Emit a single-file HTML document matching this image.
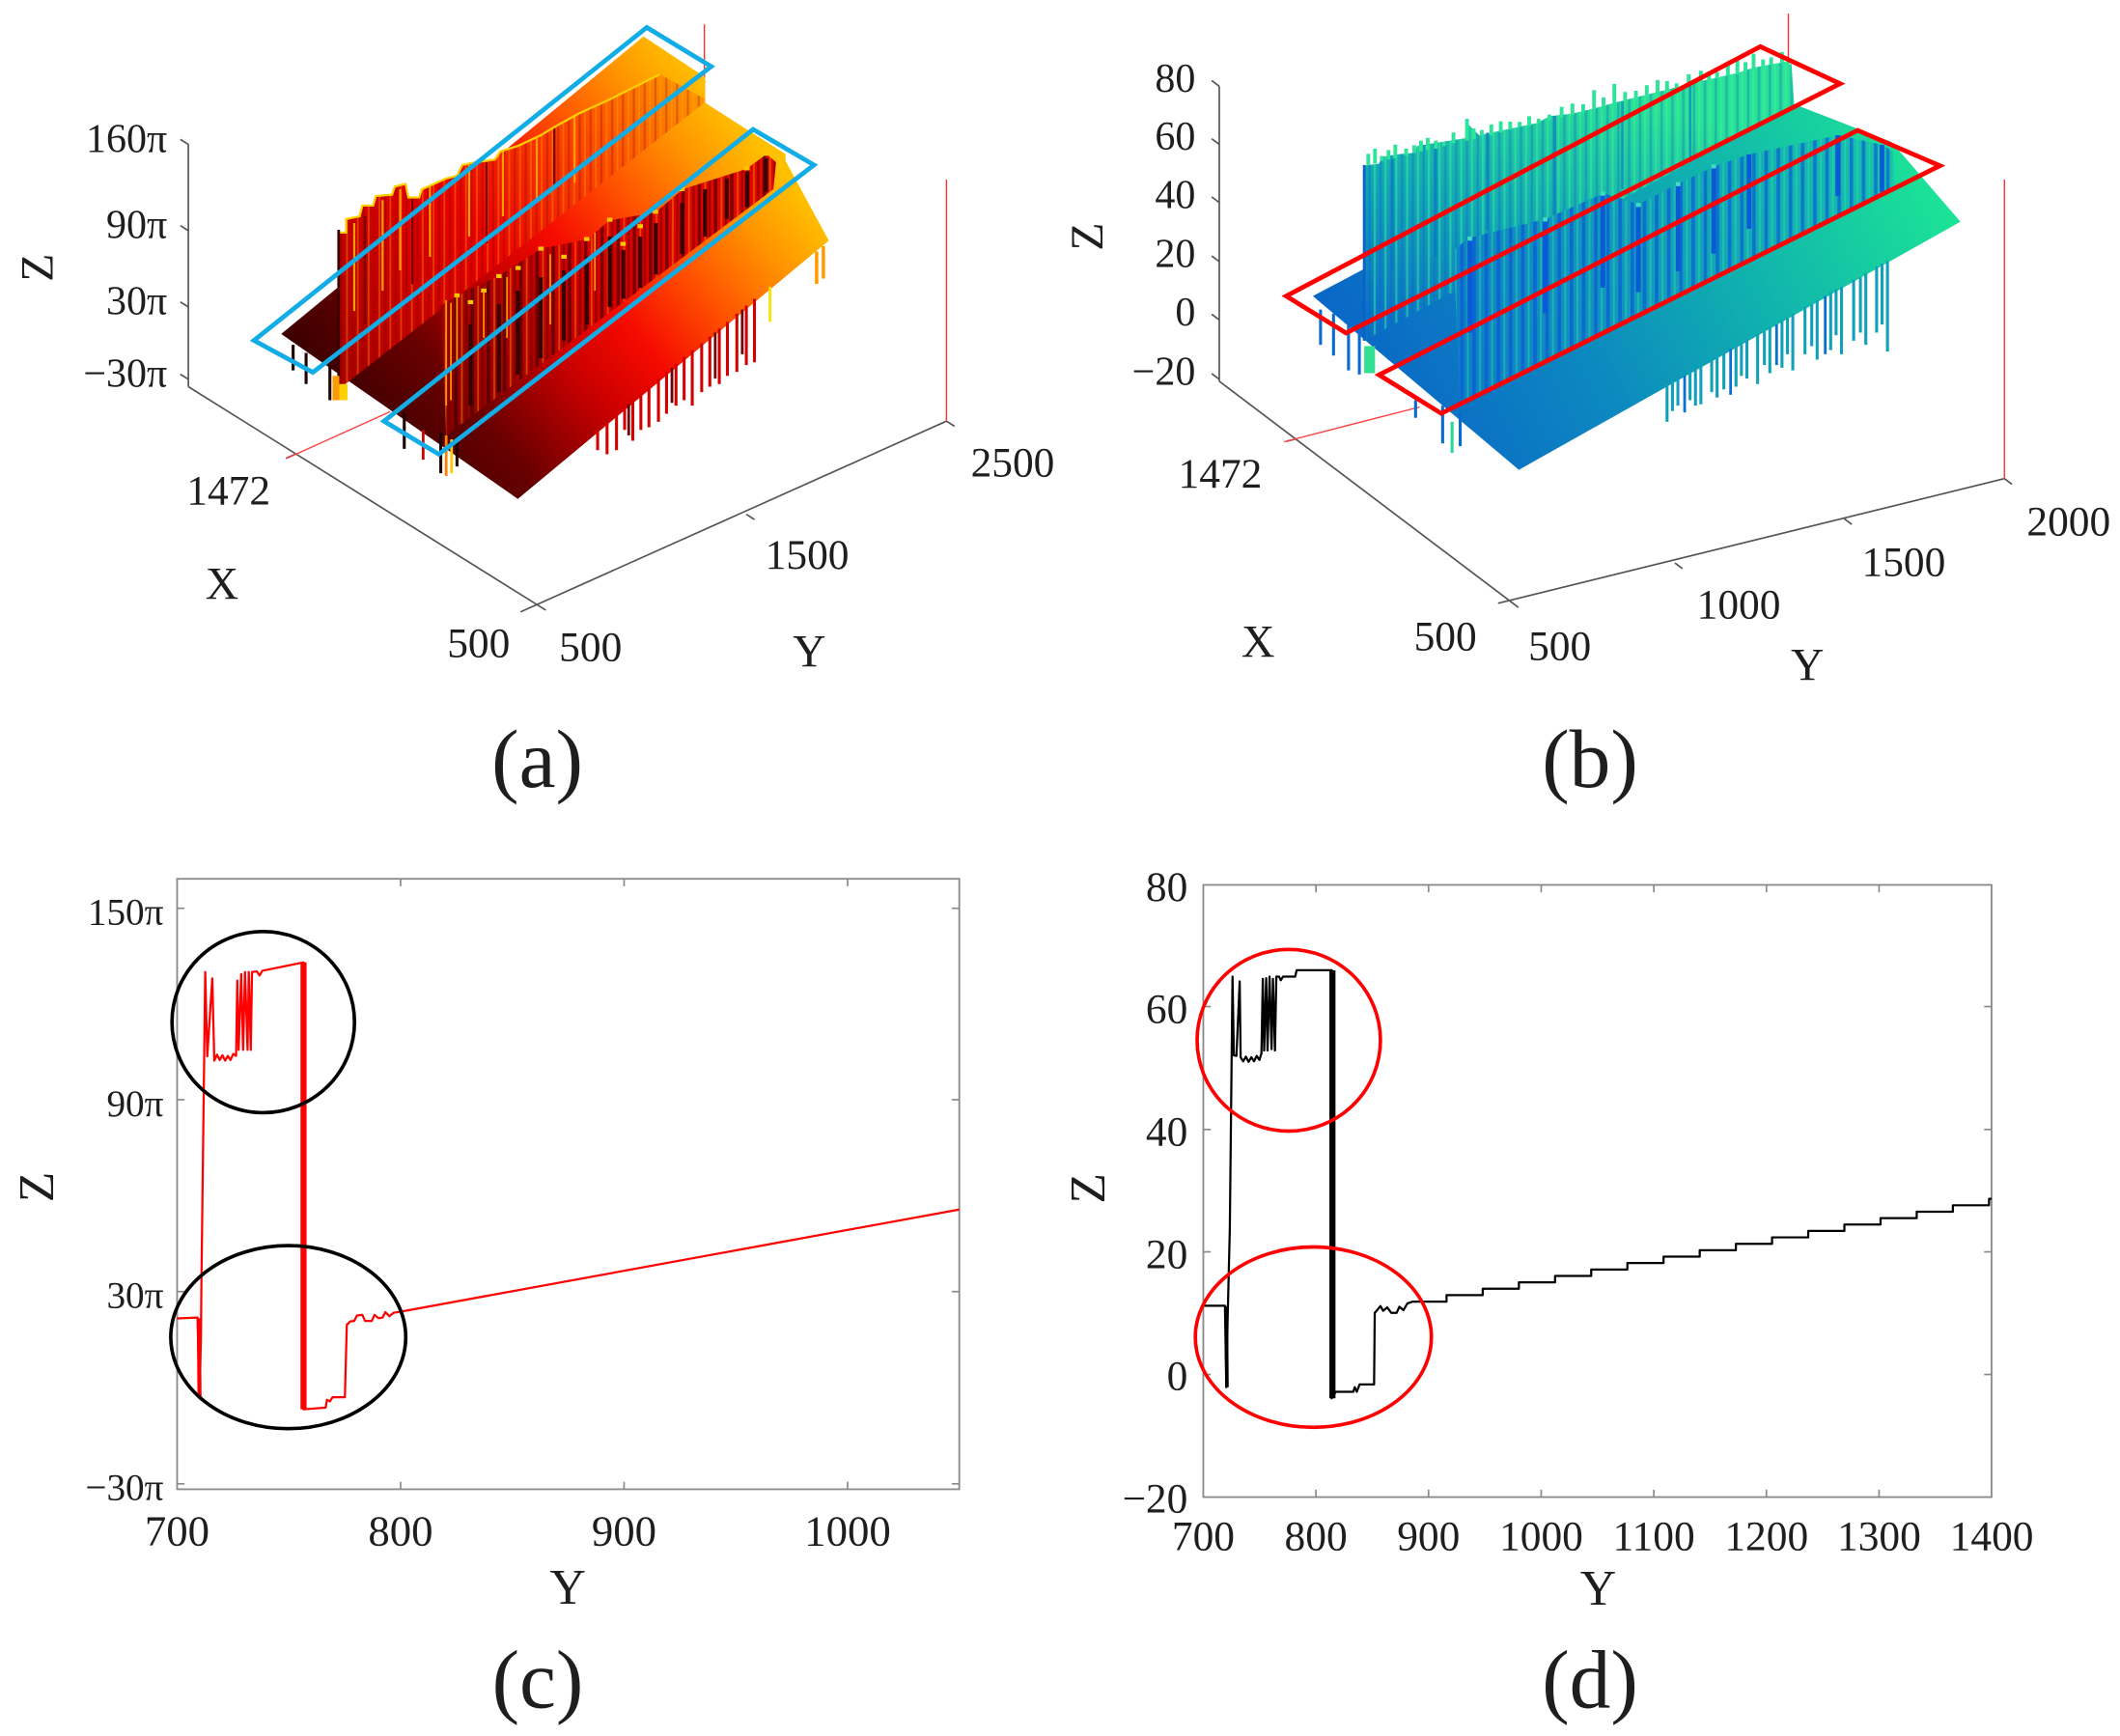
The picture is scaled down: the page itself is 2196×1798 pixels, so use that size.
<!DOCTYPE html>
<html><head><meta charset="utf-8">
<style>
html,body{margin:0;padding:0;background:#fff;}
svg{display:block;}
svg text{font-family:"Liberation Serif","Noto Serif CJK SC","Noto Serif CJK JP","DejaVu Serif",serif;fill:#1e1e1e;}
</style></head>
<body>
<svg xmlns="http://www.w3.org/2000/svg" width="2196" height="1798" viewBox="0 0 1568 1284" preserveAspectRatio="none" font-family="'Liberation Serif', 'Noto Serif CJK SC', 'DejaVu Serif', serif" style="font-family:'Liberation Serif','Noto Serif CJK SC','Noto Serif CJK JP','DejaVu Serif',serif">
<defs>
<linearGradient id="ga" gradientUnits="userSpaceOnUse" x1="210" y1="245" x2="484" y2="14">
<stop offset="0" stop-color="#3c0000"/><stop offset="0.2" stop-color="#6a0000"/><stop offset="0.4" stop-color="#c80000"/><stop offset="0.55" stop-color="#f50a00"/><stop offset="0.72" stop-color="#ff5400"/><stop offset="0.87" stop-color="#ff9400"/><stop offset="1" stop-color="#ffc000"/>
</linearGradient>
<linearGradient id="gwa" gradientUnits="userSpaceOnUse" x1="250" y1="250" x2="505" y2="60">
<stop offset="0" stop-color="#b00000"/><stop offset="0.4" stop-color="#e80000"/><stop offset="0.75" stop-color="#ff4c00"/><stop offset="1" stop-color="#ff9000"/>
</linearGradient>
<linearGradient id="gsa" gradientUnits="userSpaceOnUse" x1="330" y1="300" x2="570" y2="130">
<stop offset="0" stop-color="#8a0000"/><stop offset="0.5" stop-color="#d80000"/><stop offset="1" stop-color="#e00800"/>
</linearGradient>
<linearGradient id="gb" gradientUnits="userSpaceOnUse" x1="971" y1="219" x2="1368" y2="10">
<stop offset="0" stop-color="#0a66c6"/><stop offset="0.35" stop-color="#0c88c0"/><stop offset="0.65" stop-color="#10b2ae"/><stop offset="1" stop-color="#1ce496"/>
</linearGradient>
<linearGradient id="gwb" gradientUnits="userSpaceOnUse" x1="1100" y1="262" x2="1170" y2="60">
<stop offset="0" stop-color="#0b72c6"/><stop offset="0.45" stop-color="#12a8b4"/><stop offset="1" stop-color="#2ae296"/>
</linearGradient>
<linearGradient id="gsb" gradientUnits="userSpaceOnUse" x1="1080" y1="260" x2="1400" y2="110">
<stop offset="0" stop-color="#0e80c4"/><stop offset="1" stop-color="#16c2aa"/>
</linearGradient>
<pattern id="pwa" width="8" height="20" patternUnits="userSpaceOnUse">
<rect x="0" y="0" width="1.3" height="20" fill="#ffb000" opacity="0.35"/>
<rect x="4" y="0" width="1.6" height="20" fill="#700000" opacity="0.25"/>
</pattern>
<pattern id="psa" width="12" height="20" patternUnits="userSpaceOnUse">
<rect x="0" y="0" width="2.5" height="20" fill="#2a0000" opacity="0.55"/>
<rect x="5" y="0" width="1.2" height="20" fill="#ff9000" opacity="0.5"/>
<rect x="8" y="0" width="1.8" height="20" fill="#600000" opacity="0.45"/>
</pattern>
<pattern id="pwb" width="8" height="20" patternUnits="userSpaceOnUse">
<rect x="0" y="0" width="1.5" height="20" fill="#3cf0a0" opacity="0.5"/>
<rect x="4" y="0" width="2" height="20" fill="#0860c8" opacity="0.3"/>
</pattern>
<pattern id="psb" width="9" height="20" patternUnits="userSpaceOnUse">
<rect x="0" y="0" width="2.6" height="20" fill="#0650dc" opacity="0.6"/>
<rect x="5" y="0" width="1.3" height="20" fill="#30e0b0" opacity="0.45"/>
</pattern>
</defs>
<rect x="0" y="0" width="1568" height="1284" fill="#fff"/>

<!-- ================= PANEL (a) ================= -->
<g stroke="#555" stroke-width="1.2" fill="none">
<line x1="139.3" y1="106.8" x2="139.3" y2="286"/>
<line x1="139.3" y1="106.8" x2="133.4" y2="103.1"/>
<line x1="139.3" y1="170.6" x2="133.4" y2="166.9"/>
<line x1="139.3" y1="227" x2="133.4" y2="223.3"/>
<line x1="139.3" y1="280.5" x2="133.4" y2="276.8"/>
<line x1="139.3" y1="286" x2="403.7" y2="451.3"/>
<line x1="385" y1="452.6" x2="700" y2="311.5"/>
<line x1="552" y1="380.4" x2="558" y2="384.2"/>
<line x1="700" y1="311.5" x2="706" y2="315.3"/>
<line x1="218.3" y1="336" x2="211.5" y2="339"/>
</g>
<line x1="212" y1="339" x2="288.5" y2="304.5" stroke="#ff4040" stroke-width="1"/>
<line x1="521" y1="18" x2="521" y2="79" stroke="#ff3030" stroke-width="1"/>
<line x1="700" y1="132.8" x2="700" y2="311.5" stroke="#ff3030" stroke-width="1"/>

<polygon points="208,247 476,27 521.5,57 521.5,76 581,114 581,119 613,178 383,369" fill="url(#ga)"/>
<polygon points="250,286 250,172 256,172 256,162 266,160 268,152 276,152 278,145 290,144 292,138 300,136 302,146 310,146 312,140 330,132 338,130 342,122 352,120 366,118 370,112 383,108 400,100 410,94 428,84 450,74 470,64 488,55 521,73 521,76 253,286" fill="url(#gwa)"/>
<polygon points="250,286 250,172 256,172 256,162 266,160 268,152 276,152 278,145 290,144 292,138 300,136 302,146 310,146 312,140 330,132 338,130 342,122 352,120 366,118 370,112 383,108 400,100 410,94 428,84 450,74 470,64 488,55 521,73 521,76 253,286" fill="url(#pwa)"/>
<path d="M262,165V230M283,148V215M296,140V200M318,138V190M347,122V175M372,112V160M397,101V150M425,86V135" stroke="#ff9c00" stroke-width="1.6" fill="none"/>
<path d="M270,160V240M305,146V210M360,120V180M410,95V140" stroke="#7a0000" stroke-width="1.6" fill="none"/>
<polyline points="250,172 256,172 256,162 266,160 268,152 276,152 278,145 290,144 292,138 300,136 302,146 310,146 312,140 330,132 338,130 342,122 352,120 366,118 370,112 383,108 400,100 410,94 428,84 450,74 470,64 488,55" fill="none" stroke="#ffd000" stroke-width="1.6"/>
<line x1="250.5" y1="170" x2="250.5" y2="286" stroke="#3a0000" stroke-width="2"/>

<polygon points="326,226 338,219 369,204 400,184 434,177 451,163 485,157 505,140 552,125 567,114 574,120 572,140 330,322" fill="url(#gsa)"/>
<polygon points="326,226 338,219 369,204 400,184 434,177 451,163 485,157 505,140 552,125 567,114 574,120 572,140 330,322" fill="url(#psa)"/>
<g fill="#3a0000">
<rect x="346.5" y="240" width="3" height="60"/>
<rect x="367.5" y="225" width="3" height="65"/>
<rect x="381.5" y="215" width="3" height="62"/>
<rect x="398.5" y="205" width="3" height="60"/>
<rect x="415.5" y="200" width="3" height="52"/>
<rect x="432.5" y="190" width="3" height="50"/>
<rect x="449.5" y="175" width="3" height="52"/>
<rect x="459.5" y="185" width="3" height="36"/>
<rect x="472" y="175" width="3" height="38"/>
<rect x="483.5" y="165" width="3" height="38"/>
<rect x="503" y="150" width="3" height="38"/>
<rect x="520" y="140" width="3" height="35"/>
<rect x="536" y="132" width="3" height="30"/>
<rect x="551" y="127" width="3" height="26"/>
<rect x="565" y="117" width="3" height="25"/>
</g>
<g fill="#ffc400">
<rect x="336" y="217" width="4" height="3"/>
<rect x="346" y="222" width="4" height="3"/>
<rect x="355.8" y="213.4" width="4" height="3"/>
<rect x="367" y="202.7" width="4" height="3"/>
<rect x="381.2" y="196.7" width="4" height="3"/>
<rect x="398.1" y="182.4" width="4" height="3"/>
<rect x="415.1" y="188.4" width="4" height="3"/>
<rect x="432" y="175.3" width="4" height="3"/>
<rect x="449" y="161" width="4" height="3"/>
<rect x="458.8" y="178.9" width="4" height="3"/>
<rect x="471.5" y="165.8" width="4" height="3"/>
<rect x="482.8" y="155.1" width="4" height="3"/>
<rect x="502.5" y="138.4" width="4" height="3"/>
<rect x="550.5" y="123" width="4" height="3"/>
<rect x="564.6" y="112.2" width="4" height="3"/>
</g>
<g stroke="#ff9000" stroke-width="1.3">
<line x1="330" y1="222" x2="330" y2="300"/><line x1="333.5" y1="224" x2="333.5" y2="296"/>
<line x1="338" y1="219" x2="338" y2="270"/><line x1="357.8" y1="216" x2="357.8" y2="250"/>
<line x1="375" y1="205" x2="375" y2="250"/>
<line x1="407" y1="188" x2="407" y2="240"/><line x1="440" y1="172" x2="440" y2="215"/>
</g>

<path d="M442,318V333M449,312V336M456,306V333M462,301V318M468,296V326M474,291V318M480,286V316M487,280V312M493,275V306M500,269V300M506,264V296M512,259V300M519,254V290M525,249V286M532,243V284M538,238V278M545,232V275M552,226V270M558,221V268" stroke="#d40000" stroke-width="2.2" fill="none"/>
<path d="M465,299V322M497,272V298M529,246V280M549,229V262" stroke="#6a0000" stroke-width="2" fill="none"/>
<path d="M604,186V210M609,182V206" stroke="#ff9a00" stroke-width="2.5" fill="none"/>
<line x1="569.5" y1="212" x2="569.5" y2="238" stroke="#ffe000" stroke-width="2"/>
<path d="M216.8,255V274M226.4,261V284M244,270V296" stroke="#200000" stroke-width="2.2" fill="none"/>
<rect x="246" y="278" width="5" height="18" fill="#ff9a00"/>
<rect x="251" y="284" width="6" height="12" fill="#ffd000"/>
<path d="M299,305V332M326,320V350M338,326V345" stroke="#200000" stroke-width="2.2" fill="none"/>
<line x1="313" y1="318" x2="313" y2="340" stroke="#d00000" stroke-width="2"/>
<line x1="330" y1="322" x2="330" y2="352" stroke="#ff8000" stroke-width="2"/>
<line x1="334" y1="325" x2="334" y2="350" stroke="#ffc800" stroke-width="2"/>

<polygon points="187.8,251.8 478.4,20.3 526,49.2 231.4,275.4" fill="none" stroke="#12ace6" stroke-width="3.4"/>
<polygon points="284,311.5 557,95.7 602,122 324.6,336" fill="none" stroke="#12ace6" stroke-width="3.4"/>

<g font-size="30" text-anchor="end">
<text x="123.7" y="112.3">160π</text>
<text x="123.7" y="176.1">90π</text>
<text x="123.7" y="232.5">30π</text>
<text x="123.7" y="286">−30π</text>
</g>
<text transform="translate(39,198) rotate(-90)" text-anchor="middle" font-size="34">Z</text>
<g font-size="31" text-anchor="middle">
<text x="169" y="373">1472</text>
<text x="354" y="486">500</text>
<text x="436.8" y="489">500</text>
<text x="597" y="420.5">1500</text>
<text x="749" y="352.5">2500</text>
</g>
<g font-size="34" text-anchor="middle">
<text x="164.2" y="443">X</text>
<text x="598.6" y="493">Y</text>
</g>
<text x="397.4" y="582" font-size="61" text-anchor="middle">(a)</text>

<!-- ================= PANEL (b) ================= -->
<g stroke="#555" stroke-width="1.2" fill="none">
<line x1="901.8" y1="63.8" x2="901.8" y2="282"/>
<line x1="901.8" y1="63.8" x2="896.2" y2="59.6"/>
<line x1="901.8" y1="106.8" x2="896.2" y2="102.6"/>
<line x1="901.8" y1="149.8" x2="896.2" y2="145.6"/>
<line x1="901.8" y1="193.5" x2="896.2" y2="189.3"/>
<line x1="901.8" y1="236.6" x2="896.2" y2="232.4"/>
<line x1="901.8" y1="280.5" x2="896.2" y2="276.3"/>
<line x1="901.8" y1="282" x2="1123" y2="449.2"/>
<line x1="1108" y1="446.2" x2="1482.5" y2="354"/>
<line x1="1238.8" y1="416.4" x2="1244.4" y2="420.6"/>
<line x1="1364" y1="383.6" x2="1369.6" y2="387.8"/>
<line x1="1482.5" y1="354" x2="1488.1" y2="358.2"/>
<line x1="958.3" y1="324.7" x2="951.5" y2="326.4"/>
</g>
<line x1="949.6" y1="326.8" x2="1050" y2="301" stroke="#ff4040" stroke-width="1"/>
<line x1="1322.7" y1="10" x2="1322.7" y2="49" stroke="#ff3030" stroke-width="1"/>
<line x1="1482.5" y1="132.8" x2="1482.5" y2="354" stroke="#ff3030" stroke-width="1"/>

<polygon points="971,219 1008.7,199 1325,47 1327,77 1399,105 1450,164 1123.4,347.5" fill="url(#gb)"/>
<polygon points="1008.7,252 1008.7,122.6 1020,121 1022,116 1035,114 1046,113 1048,108 1060,106 1085,102 1086,92 1094,100 1137,91 1146,86 1163,84 1180,80 1194,76 1226,68 1258,60 1285,54 1297,50 1323.4,45.2 1327,78" fill="url(#gwb)"/>
<polygon points="1008.7,252 1008.7,122.6 1020,121 1022,116 1035,114 1046,113 1048,108 1060,106 1085,102 1086,92 1094,100 1137,91 1146,86 1163,84 1180,80 1194,76 1226,68 1258,60 1285,54 1297,50 1323.4,45.2 1327,78" fill="url(#pwb)"/>
<path d="M1030,118V200M1062,108V190M1100,98V170M1150,86V160M1200,75V140M1250,62V120" stroke="#0a72c8" stroke-width="2" fill="none" opacity="0.6"/>
<line x1="1009" y1="122" x2="1009" y2="252" stroke="#0a62c8" stroke-width="2"/>
<path d="M1012,122V113.8M1017,121V110M1022,119V115.3M1027,118V111M1032,117V106.9M1040,115V110M1046,113V107.4M1051,112V104M1056,111V101.9M1062,110V104M1068,108V105M1075,106V98M1085,104V87.8M1090,103V95M1096,101V96.1M1103,100V92M1110,98V89.7M1117,96V90M1124,94V90.2M1131,93V86M1138,91V87.8M1146,89V84.8M1155,87V79M1163,85V76.6M1171,83V77M1179,81V66.7M1186,79V72M1194,77V62M1202,75V68M1210,73V67.1M1218,71V63M1226,69V59.2M1233,67V60M1240,66V61.7M1249,63V55M1258,61V52.3M1264,60V54M1270,58V53.3M1278,56V48M1285,55V44.7M1291,53V46M1297,52V39.7M1304,50V44M1310,48V42.5M1318,47V38.6" stroke="#2ee49a" stroke-width="2.8" fill="none"/>

<polygon points="1075,185 1087,176 1143,162 1186,143 1212,151 1241,136 1268,123 1294,114 1360,100 1392,107 1400,112 1402,140 1080,300" fill="url(#gsb)"/>
<polygon points="1075,185 1087,176 1143,162 1186,143 1212,151 1241,136 1268,123 1294,114 1360,100 1392,107 1400,112 1402,140 1080,300" fill="url(#psb)"/>
<g fill="#0a5ad6">
<rect x="1085.4" y="176.1" width="3.5" height="70"/>
<rect x="1141.1" y="161.8" width="3.5" height="70"/>
<rect x="1183.7" y="142.8" width="3.5" height="70"/>
<rect x="1210" y="151.1" width="3.5" height="65"/>
<rect x="1239.4" y="135.7" width="3.5" height="65"/>
<rect x="1265.7" y="122.6" width="3.5" height="65"/>
<rect x="1291.9" y="114.2" width="3.5" height="55"/>
<rect x="1357.5" y="100" width="3.5" height="45"/>
<rect x="1390.2" y="107.1" width="3.5" height="35"/>
</g>
<g fill="#40dcc0">
<rect x="1085.4" y="175" width="3.5" height="3"/>
<rect x="1141.1" y="160.8" width="3.5" height="3"/>
<rect x="1183.7" y="141.8" width="3.5" height="3"/>
<rect x="1210" y="150.1" width="3.5" height="3"/>
<rect x="1239.4" y="134.7" width="3.5" height="3"/>
<rect x="1265.7" y="121.6" width="3.5" height="3"/>
</g>

<path d="M1233,284V312M1237,282V304M1241,280V300M1250,275V296M1254,273V300M1258,270V299M1266,266V290M1270,264V294M1275,261V288M1284,256V286M1288,254V278M1292,251V280M1300,247V284M1305,245V270M1309,242V276M1318,237V272M1322,235V262M1326,232V274M1335,227V262M1340,225V256M1344,222V266M1354,216V259M1358,214V248M1362,212V262M1371,207V252M1376,205V246M1380,202V255M1388,197V246M1392,195V240M1396,193V260" stroke="#10a0b8" stroke-width="2.2" fill="none"/>
<path d="M1246,278V305M1280,258V292M1314,240V270M1350,219V262" stroke="#0a70d0" stroke-width="2" fill="none"/>
<path d="M976.7,229V255M986.3,232V263M997.4,236V274M1005.4,238V277M1047,296V309M1067,300V328M1080,305V330" stroke="#0a6ad0" stroke-width="2.2" fill="none"/>
<rect x="1009" y="256" width="8" height="20" fill="#30e090"/>
<line x1="1074" y1="312" x2="1074" y2="335" stroke="#28d898" stroke-width="2.2"/>

<polygon points="951.3,219 1302,34.5 1361,61.9 995.6,246.3" fill="none" stroke="#ff0000" stroke-width="3.4"/>
<polygon points="1020,277.3 1374,96.4 1434.8,122.6 1066,305.8" fill="none" stroke="#ff0000" stroke-width="3.4"/>

<g font-size="30" text-anchor="end">
<text x="884.2" y="67.8">80</text>
<text x="884.2" y="110.8">60</text>
<text x="884.2" y="153.8">40</text>
<text x="884.2" y="197.5">20</text>
<text x="884.2" y="240.6">0</text>
<text x="884.2" y="284.5">−20</text>
</g>
<text transform="translate(815.5,175) rotate(-90)" text-anchor="middle" font-size="34">Z</text>
<g font-size="31" text-anchor="middle">
<text x="902.5" y="360.5">1472</text>
<text x="1069" y="481">500</text>
<text x="1153.6" y="488">500</text>
<text x="1286" y="457.5">1000</text>
<text x="1408" y="426">1500</text>
<text x="1530" y="396">2000</text>
</g>
<g font-size="34" text-anchor="middle">
<text x="930.5" y="486">X</text>
<text x="1336.8" y="503">Y</text>
</g>
<text x="1176" y="582" font-size="61" text-anchor="middle">(b)</text>

<!-- ================= PANEL (c) ================= -->
<rect x="131" y="650" width="578.5" height="451.5" fill="none" stroke="#8a8a8a" stroke-width="1.3"/>
<g stroke="#8a8a8a" stroke-width="1.2">
<line x1="131" y1="671.8" x2="136.5" y2="671.8"/><line x1="131" y1="813.4" x2="136.5" y2="813.4"/><line x1="131" y1="955.3" x2="136.5" y2="955.3"/><line x1="131" y1="1097.5" x2="136.5" y2="1097.5"/>
<line x1="709.5" y1="671.8" x2="704" y2="671.8"/><line x1="709.5" y1="813.4" x2="704" y2="813.4"/><line x1="709.5" y1="955.3" x2="704" y2="955.3"/><line x1="709.5" y1="1097.5" x2="704" y2="1097.5"/>
<line x1="296.3" y1="1101.5" x2="296.3" y2="1096"/><line x1="461.6" y1="1101.5" x2="461.6" y2="1096"/><line x1="626.9" y1="1101.5" x2="626.9" y2="1096"/>
<line x1="296.3" y1="650" x2="296.3" y2="655.5"/><line x1="461.6" y1="650" x2="461.6" y2="655.5"/><line x1="626.9" y1="650" x2="626.9" y2="655.5"/>
</g>
<path d="M131,975.1 L146.1,974.5 L147.6,1034.4 L148.6,990 L149,946.3 L151.8,718.9 L153.3,781.3 L157,723.7 L158.5,784.5 L160.5,780 L162.5,784 L164.5,780.5 L166.5,784.5 L168.5,781 L170.5,784 L172.5,779.5 L174.6,781 L175.5,725.3 L176.5,776.5 L178.4,720.5 L179.8,776.5 L181.2,718.9 L183.1,776.5 L184,718.9 L185.5,776.5 L186.4,718.9 L190,718.5 L192,721.5 L194,718 L224.5,711.8 L224.5,1042.4 L240.9,1041.1 L241.8,1035.3 L244,1036.5 L246,1033.4 L255.1,1033.4 L256.5,979.9 L259,977.4 L262,977 L264,973 L268,972.5 L270,977 L275,977 L277,972.5 L280,975 L283,974.5 L285,970.5 L288,973.5 L291,971 L295.4,970.3 L709.5,894.6" fill="none" stroke="#ff0000" stroke-width="1.6" stroke-linejoin="round"/>
<line x1="224.5" y1="711.8" x2="224.5" y2="1042.4" stroke="#ff0000" stroke-width="4.5"/>
<line x1="147" y1="975" x2="147.6" y2="1034" stroke="#ff0000" stroke-width="3"/>
<ellipse cx="194.7" cy="756" rx="67.5" ry="67" fill="none" stroke="#000" stroke-width="2.6"/>
<ellipse cx="213.2" cy="989" rx="86.9" ry="67.7" fill="none" stroke="#000" stroke-width="2.6"/>
<g font-size="28" text-anchor="end">
<text x="121" y="683.8">150π</text>
<text x="121" y="825.4">90π</text>
<text x="121" y="967.3">30π</text>
<text x="121" y="1109.5">−30π</text>
</g>
<g font-size="32" text-anchor="middle">
<text x="131" y="1143">700</text>
<text x="296.3" y="1143">800</text>
<text x="461.6" y="1143">900</text>
<text x="626.9" y="1143">1000</text>
</g>
<text x="420" y="1186" font-size="37" text-anchor="middle">Y</text>
<text transform="translate(39.2,878) rotate(-90)" text-anchor="middle" font-size="37">Z</text>
<text x="397.7" y="1263" font-size="61" text-anchor="middle">(c)</text>

<!-- ================= PANEL (d) ================= -->
<rect x="890" y="654.5" width="583" height="452.8" fill="none" stroke="#8a8a8a" stroke-width="1.3"/>
<g stroke="#8a8a8a" stroke-width="1.2">
<line x1="890" y1="744.5" x2="895.5" y2="744.5"/><line x1="890" y1="835.4" x2="895.5" y2="835.4"/><line x1="890" y1="925.9" x2="895.5" y2="925.9"/><line x1="890" y1="1016.6" x2="895.5" y2="1016.6"/>
<line x1="1473" y1="744.5" x2="1467.5" y2="744.5"/><line x1="1473" y1="835.4" x2="1467.5" y2="835.4"/><line x1="1473" y1="925.9" x2="1467.5" y2="925.9"/><line x1="1473" y1="1016.6" x2="1467.5" y2="1016.6"/>
<line x1="973.3" y1="1107.3" x2="973.3" y2="1101.8"/><line x1="1056.6" y1="1107.3" x2="1056.6" y2="1101.8"/><line x1="1139.9" y1="1107.3" x2="1139.9" y2="1101.8"/><line x1="1223.2" y1="1107.3" x2="1223.2" y2="1101.8"/><line x1="1306.5" y1="1107.3" x2="1306.5" y2="1101.8"/><line x1="1389.8" y1="1107.3" x2="1389.8" y2="1101.8"/>
<line x1="973.3" y1="654.5" x2="973.3" y2="660"/><line x1="1056.6" y1="654.5" x2="1056.6" y2="660"/><line x1="1139.9" y1="654.5" x2="1139.9" y2="660"/><line x1="1223.2" y1="654.5" x2="1223.2" y2="660"/><line x1="1306.5" y1="654.5" x2="1306.5" y2="660"/><line x1="1389.8" y1="654.5" x2="1389.8" y2="660"/>
</g>
<path d="M890,965.8 L906,965.8 L907,1026 L908,975 L909.6,909 L911.6,722.3 L912.6,780.6 L914.5,781 L916.9,725.9 L917.6,782 L919.5,785 L921.5,781.5 L923.5,785.4 L925.5,782 L927.5,785 L929.5,781 L931.5,784 L933,779 L934,724 L935,777 L936.5,723.5 L937.5,777 L939,722.3 L940.5,776 L941.5,724 L943,777 L944,722.3 L946,722.3 L947.3,725 L949,722.3 L958,722.3 L959,717.6 L985,717.6 L985,1034.2 L988,1029.4 L1000.9,1029.4 L1002,1026 L1003.5,1029.4 L1005.6,1024 L1016.3,1024 L1016.8,971 L1019,968.5 L1021,966 L1023,969.5 L1026,967 L1029,971 L1033,971 L1035,966.5 L1038,969 L1041,964 L1044.9,962.7 L1069.9,962.7 L1069.9,957.95 H1096.65 V953.2 H1123.4 V948.45 H1150.15 V943.7 H1176.9 V938.95 H1203.65 V934.2 H1230.4 V929.45 H1257.15 V924.7 H1283.9 V919.95 H1310.65 V915.2 H1337.4 V910.45 H1364.15 V905.7 H1390.9 V900.95 H1417.65 V896.2 H1444.4 V891.45 H1471.15 V886.7 H1473" fill="none" stroke="#000" stroke-width="1.6" stroke-linejoin="round"/>
<line x1="985.5" y1="717.6" x2="985.5" y2="1034.2" stroke="#000" stroke-width="4.5"/>
<line x1="907" y1="966" x2="907.5" y2="1026" stroke="#000" stroke-width="2.6"/>
<ellipse cx="953.2" cy="769.4" rx="67.8" ry="67.2" fill="none" stroke="#ff0000" stroke-width="2.6"/>
<ellipse cx="971.4" cy="989" rx="87.3" ry="66.7" fill="none" stroke="#ff0000" stroke-width="2.6"/>
<g font-size="31" text-anchor="end">
<text x="878.5" y="666.4">80</text>
<text x="878.5" y="756.5">60</text>
<text x="878.5" y="847.4">40</text>
<text x="878.5" y="938">20</text>
<text x="878.5" y="1028">0</text>
<text x="878.5" y="1118.6">−20</text>
</g>
<g font-size="31" text-anchor="middle">
<text x="890" y="1146.5">700</text>
<text x="973.3" y="1146.5">800</text>
<text x="1056.6" y="1146.5">900</text>
<text x="1139.9" y="1146.5">1000</text>
<text x="1223.2" y="1146.5">1100</text>
<text x="1306.5" y="1146.5">1200</text>
<text x="1389.8" y="1146.5">1300</text>
<text x="1473.1" y="1146.5">1400</text>
</g>
<text x="1182" y="1187" font-size="37" text-anchor="middle">Y</text>
<text transform="translate(817,879) rotate(-90)" text-anchor="middle" font-size="37">Z</text>
<text x="1176" y="1263" font-size="61" text-anchor="middle">(d)</text>
</svg>
</body></html>
